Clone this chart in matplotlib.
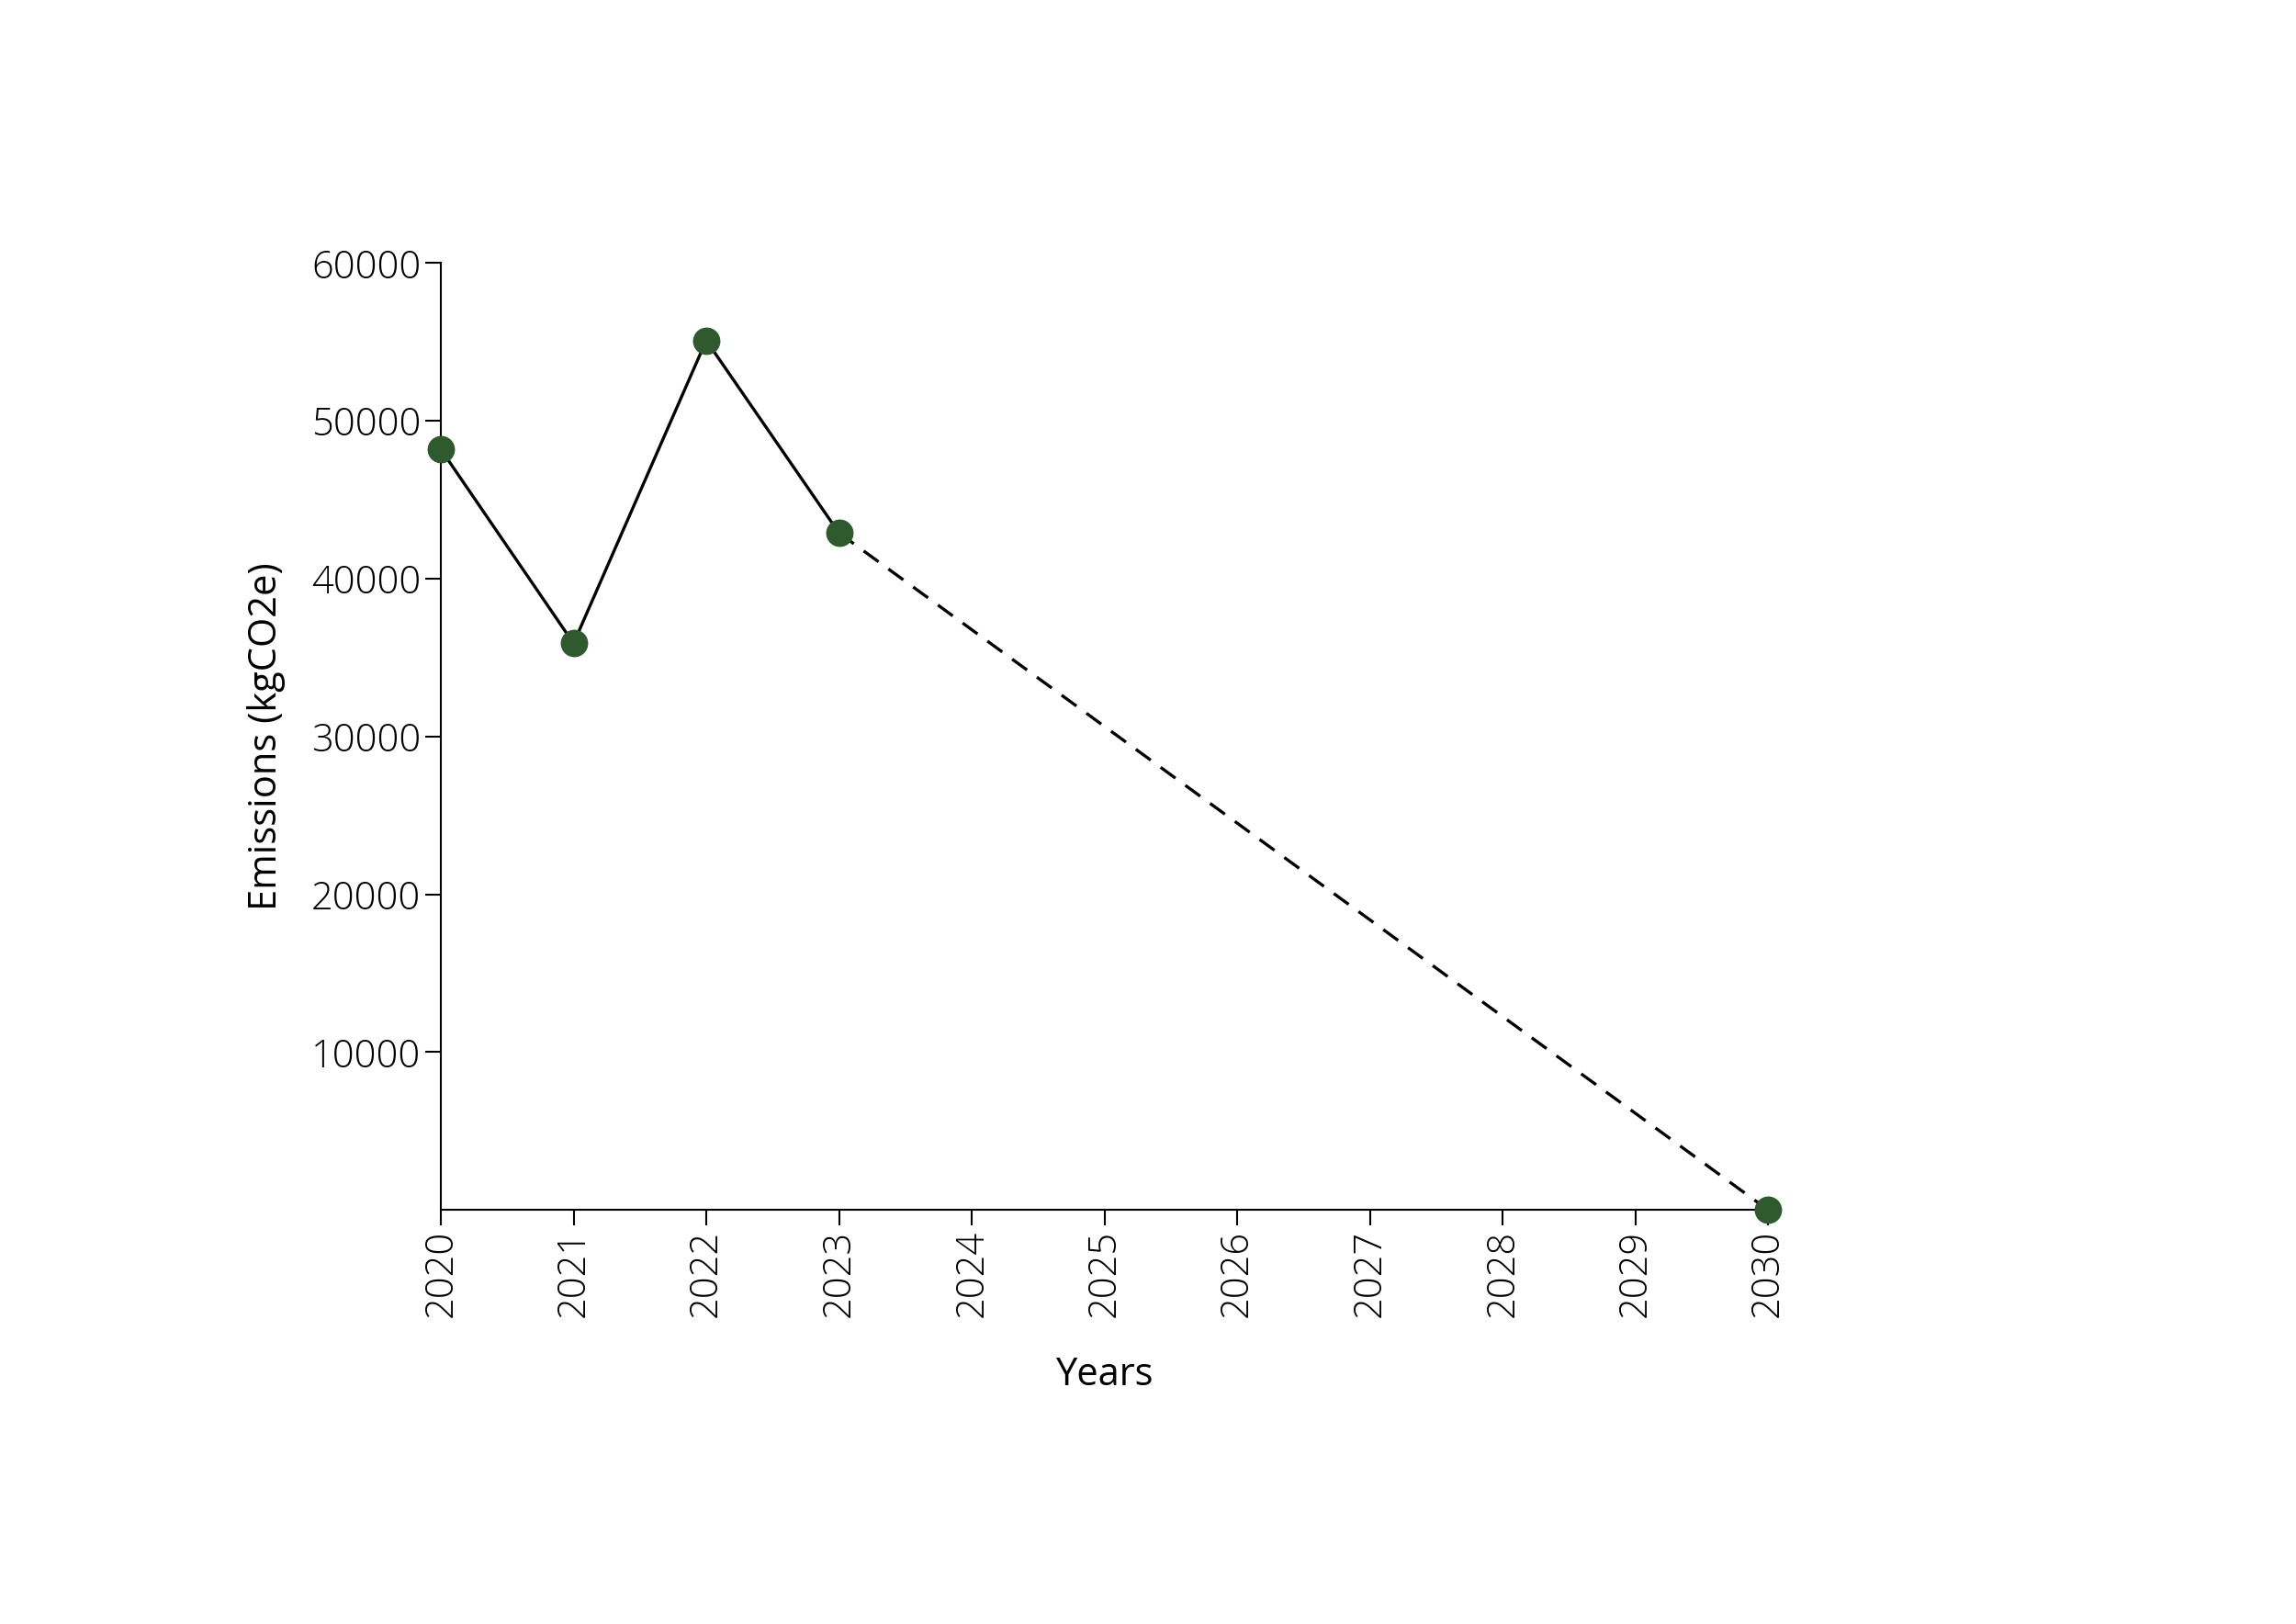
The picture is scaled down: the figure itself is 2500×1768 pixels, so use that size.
import matplotlib
matplotlib.use("Agg")
import matplotlib.pyplot as plt

years_actual = [2020, 2021, 2022, 2023]
emissions_actual = [48200, 35900, 55100, 42900]
years_target = [2023, 2030]
emissions_target = [42900, 0]
x_ticks = list(range(2020, 2031))
y_ticks = [10000, 20000, 30000, 40000, 50000, 60000]

plt.rcParams['font.family'] = ['Open Sans', 'DejaVu Sans']
plt.rcParams['font.weight'] = 'light'

fig = plt.figure(figsize=(25, 17.68), dpi=100)
ax = fig.add_axes([0.192, 0.255, 0.578, 0.583])

ax.plot(years_actual, emissions_actual, color='black', lw=2.4, zorder=2)
ax.plot(years_target, emissions_target, color='black', lw=2.4, ls=(0, (6, 4)), zorder=2)
ax.scatter(years_actual + [2030], emissions_actual + [0], s=420, color='#2f5a2d',
           zorder=3, clip_on=False)

ax.set_xlim(2020, 2030)
ax.set_ylim(0, 60000)
ax.set_xticks(x_ticks)
ax.set_xticklabels([str(y) for y in x_ticks], rotation=90)
ax.set_yticks(y_ticks)
ax.tick_params(labelsize=30, length=12, width=1.5)
for s in ['top', 'right']:
    ax.spines[s].set_visible(False)
for s in ['left', 'bottom']:
    ax.spines[s].set_linewidth(1.5)
ax.set_xlabel('Years', fontsize=30, labelpad=30)
ax.set_ylabel('Emissions (kgCO2e)', fontsize=30, labelpad=20)

fig.savefig('out.png', dpi=100)
